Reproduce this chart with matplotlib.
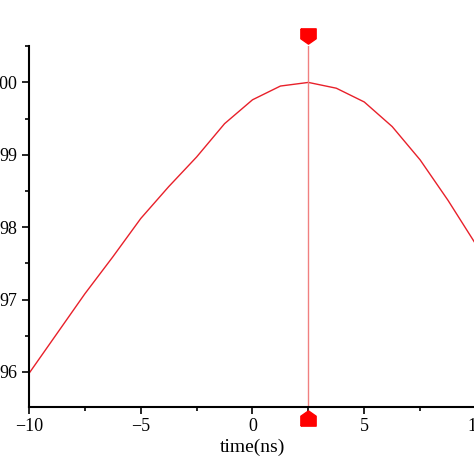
import matplotlib.pyplot as plt
from matplotlib.ticker import MultipleLocator

time_ns = [-10, -8.75, -7.5, -6.25, -5, -3.75, -2.5, -1.25, 0, 1.25, 2.5,
           3.75, 5, 6.25, 7.5, 8.75, 10]
signal = [95.98, 96.53, 97.08, 97.59, 98.12, 98.56, 98.97, 99.43, 99.76, 99.95, 100.0,
          99.92, 99.73, 99.39, 98.93, 98.37, 97.76]
cursor_x = 2.47

plt.rcParams['font.family'] = ['Liberation Serif', 'DejaVu Serif']
fig = plt.figure(figsize=(4.74, 4.74), dpi=100)
ax = fig.add_axes([0.0612, 0.142, 0.943, 0.762])

ax.plot(time_ns, signal, color='#e8202a', lw=1)

ax.axvline(cursor_x, color='#f08080', lw=1)
top = [(-1, 1), (1, 1), (1, -0.3), (0, -1), (-1, -0.3), (-1, 1)]
bot = [(x, -y) for x, y in top]
ax.plot([cursor_x], [100.64], marker=top, ms=11, color='red', clip_on=False)
ax.plot([cursor_x], [95.36], marker=bot, ms=11, color='red', clip_on=False)

ax.set_xlim(-10, 10)
ax.set_ylim(95.52, 100.51)
ax.xaxis.set_major_locator(MultipleLocator(5))
ax.xaxis.set_minor_locator(MultipleLocator(2.5))
ax.yaxis.set_major_locator(MultipleLocator(1))
ax.yaxis.set_minor_locator(MultipleLocator(0.5))
ax.tick_params(which='both', direction='out', width=1.2, labelsize=13)
ax.tick_params(which='major', length=5)
ax.tick_params(which='minor', length=3)
for s in ['top', 'right']:
    ax.spines[s].set_visible(False)
for s in ['left', 'bottom']:
    ax.spines[s].set_linewidth(1.5)
ax.set_xlabel('time(ns)', fontsize=14, labelpad=2)

fig.savefig('out.png', dpi=100)
